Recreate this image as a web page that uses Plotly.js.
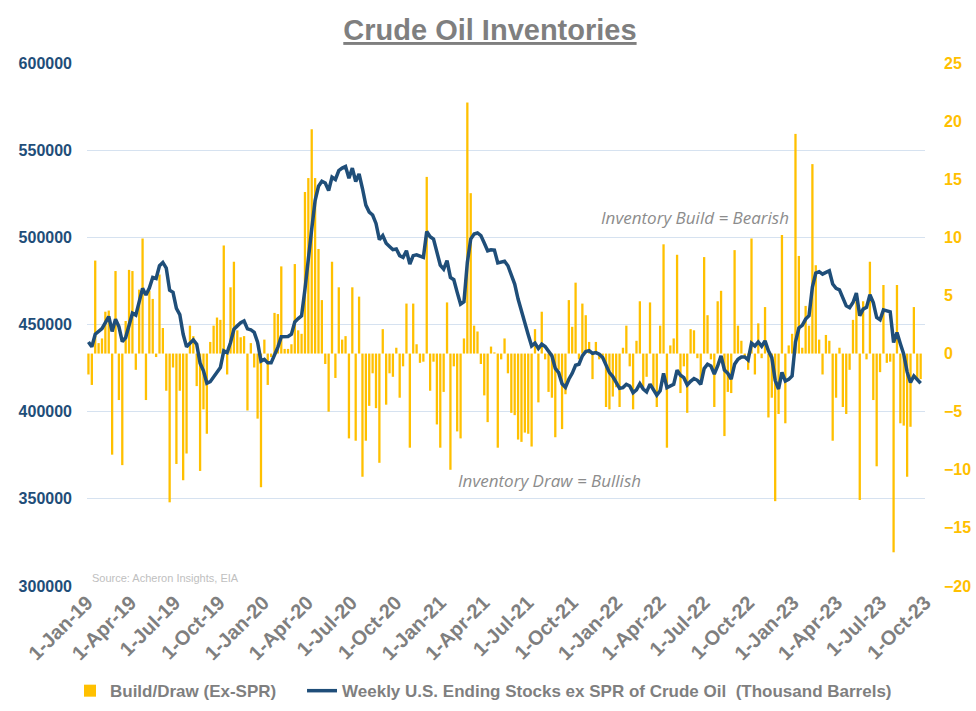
<!DOCTYPE html>
<html>
<head>
<meta charset="utf-8">
<script src="https://cdn.plot.ly/plotly-3.0.1.min.js"></script>
<style>
  html, body { margin: 0; padding: 0; background: #ffffff; }
  #chart { width: 976px; height: 711px; }
</style>
</head>
<body>
<div id="chart"></div>
<script>
// ---- Data ----
// First weekly observation and the weekly step (one week in ms)
const firstWeek = '2019-01-04';
const weekStepMs = 604800000;

// Weekly build / draw, million barrels (right axis)
const buildDraw = [
  -1.8, -2.7, 8.0, 0.9, 1.3, 3.6, 3.7, -8.7, 7.1, -4.0,
  -9.6, 2.8, 7.2, 7.1, -1.4, 5.5, 9.9, -4.0, 5.4, 4.7,
  -0.3, 6.8, 2.2, -3.2, -12.8, -1.2, -9.5, -3.2, -10.9, -8.6,
  2.4, 1.5, -2.8, -10.1, -4.8, -6.9, 1.0, 2.4, 3.1, 2.9,
  9.3, -1.8, 5.7, 7.9, 2.0, 1.4, 1.5, -4.9, 0.9, -1.2,
  -5.6, -11.5, 1.2, -2.7, -0.3, 3.5, 3.4, 7.5, 0.4, 0.4,
  0.8, 7.7, 2.0, 1.7, 13.9, 15.1, 19.3, 15.1, 9.0, 4.6,
  -0.9, -5.0, 7.9, -2.1, 5.7, 1.2, 1.5, -7.3, 5.7, -7.5,
  4.9, -10.6, -7.5, -4.5, -1.7, -4.7, -9.4, 2.1, -4.4, -1.7,
  -2.0, 0.5, -3.8, -1.1, 4.3, -8.1, 4.3, 0.8, -0.8, -0.7,
  15.2, -3.2, -0.7, -6.1, -8.1, -3.3, 4.4, -10.0, -1.1, -6.7,
  -7.3, 1.3, 21.6, 13.8, 2.4, 1.9, -0.9, -3.6, -5.9, 0.6,
  0.1, -8.1, -0.5, 1.3, -1.7, -5.1, -5.3, -7.4, -7.6, -6.8,
  -6.9, -8.0, 2.1, -4.2, 3.6, -0.5, -3.3, -3.8, -7.2, -1.4,
  -6.5, -3.5, 4.6, 2.3, 6.1, -0.5, 4.3, 3.3, 1.0, -2.2,
  1.0, -0.5, -0.2, -4.6, -4.8, -3.7, -2.9, -4.6, 0.5, 2.4,
  -1.1, -4.8, 1.1, 4.5, -2.9, -2.0, 4.4, -3.2, -4.6, 2.4,
  9.4, -8.1, 0.7, 1.3, 8.5, -3.4, -1.1, -5.1, 2.1, 2.0,
  -0.4, -2.6, 8.3, 3.3, -0.5, -4.6, 4.5, 5.4, -7.1, -3.3,
  -3.4, 8.9, 2.4, 1.1, -0.2, -1.4, 9.9, -1.8, 2.6, -0.4,
  4.0, -5.5, -3.8, -12.7, -5.2, 10.2, -6.0, 0.7, 1.7, 18.9,
  8.4, 0.5, 4.1, 2.4, 16.3, 7.6, 1.2, -1.8, 1.6, 1.1,
  -7.5, -3.8, 0.5, -4.6, -5.2, -1.4, 2.9, 4.5, -12.6, 4.5,
  -0.5, 7.9, -4.0, -9.7, -1.6, 5.9, -0.8, -0.7, -17.1, 5.9,
  -6.0, -6.2, -10.6, -6.3, 4.0, -2.2, -2.2
];

// Weekly U.S. ending stocks ex SPR, thousand barrels (left axis)
const endingStocks = [
  440000, 437200, 444400, 446000, 447700, 451100, 454600, 446000, 453100, 448800,
  440200, 442500, 450200, 456500, 455400, 462600, 470700, 466900, 470900, 477000,
  476400, 483700, 485600, 482400, 469700, 468400, 459200, 455700, 444400, 437200,
  439300, 441200, 438700, 427800, 423400, 416300, 417200, 420100, 422800, 425300,
  434900, 433900, 439700, 447300, 449200, 451000, 452000, 447500, 447000, 445500,
  439800, 429000, 430000, 428000, 428000, 432500, 437000, 443000, 443100, 443100,
  444400, 451500, 453400, 455000, 470300, 485600, 504800, 521100, 529300, 532200,
  531200, 526800, 534500, 533200, 538300, 539700, 540600, 533900, 539700, 532000,
  536400, 528000, 518500, 514500, 512800, 508000, 498700, 501000, 496600, 494800,
  492900, 493300, 489500, 488500, 492300, 484700, 489500, 490000, 489500, 488500,
  503300, 500400, 499000, 492300, 484100, 481800, 486600, 477000, 475700, 468400,
  461700, 463000, 485600, 499000, 501900, 502500, 501000, 496700, 492300, 492900,
  492700, 485300, 485600, 486300, 483700, 478000, 473200, 464600, 457300, 451100,
  444100, 437700, 439300, 436200, 438700, 437400, 434900, 432000, 424800, 422400,
  416000, 414000, 418600, 422000, 426600, 427200, 432000, 434500, 435000, 433500,
  433900, 432900, 431000, 426600, 422400, 420100, 416700, 413400, 413800, 415700,
  414700, 410900, 412500, 416000, 413000, 411300, 415800, 412800, 409500, 412000,
  422000, 413800, 414700, 415700, 423800, 420900, 419500, 415300, 417400, 419000,
  418000, 415700, 424700, 427200, 426200, 421500, 426200, 432000, 423900, 422000,
  418600, 427200, 430100, 431400, 431400, 429700, 439300, 437700, 440000, 437500,
  440600, 434900, 431000, 418000, 413000, 422500, 417500, 418500, 420500, 440000,
  448000, 449500, 453100, 455000, 471500, 479500, 480300, 478900, 479900, 480800,
  473200, 470700, 469900, 465500, 460700, 459600, 462600, 468000, 455000, 458800,
  459800, 467100, 462600, 454000, 452700, 458400, 457900, 457300, 439700, 445400,
  439000, 433000, 422800, 416700, 420500, 418600, 416300
];

// X-axis ticks
const tickDates = [
  '2019-01-01', '2019-04-01', '2019-07-01', '2019-10-01',
  '2020-01-01', '2020-04-01', '2020-07-01', '2020-10-01',
  '2021-01-01', '2021-04-01', '2021-07-01', '2021-10-01',
  '2022-01-01', '2022-04-01', '2022-07-01', '2022-10-01',
  '2023-01-01', '2023-04-01', '2023-07-01', '2023-10-01'
];
const tickLabels = [
  '1-Jan-19', '1-Apr-19', '1-Jul-19', '1-Oct-19',
  '1-Jan-20', '1-Apr-20', '1-Jul-20', '1-Oct-20',
  '1-Jan-21', '1-Apr-21', '1-Jul-21', '1-Oct-21',
  '1-Jan-22', '1-Apr-22', '1-Jul-22', '1-Oct-22',
  '1-Jan-23', '1-Apr-23', '1-Jul-23', '1-Oct-23'
];

const barName = 'Build/Draw (Ex-SPR)';
const lineName = 'Weekly U.S. Ending Stocks ex SPR of Crude Oil  (Thousand Barrels)';

// ---- Styling ----
const GOLD = '#ffc000';
const NAVY = '#1f4e79';
const GREY = '#7f7f7f';
const FONT = 'Liberation Sans, Arial, sans-serif';
const LEGEND_FONT = { family: FONT, size: 17, color: GREY, weight: 'bold' };

const traces = [
  {
    type: 'bar',
    name: barName,
    x0: firstWeek,
    dx: weekStepMs,
    y: buildDraw,
    yaxis: 'y',
    legend: 'legend',
    marker: { color: GOLD, line: { width: 0 } },
    hoverinfo: 'x+y'
  },
  {
    type: 'scatter',
    mode: 'lines',
    name: lineName,
    x0: firstWeek,
    dx: weekStepMs,
    y: endingStocks,
    yaxis: 'y2',
    legend: 'legend2',
    line: { color: NAVY, width: 3.5 }
  }
];

const layout = {
  width: 976,
  height: 711,
  paper_bgcolor: '#ffffff',
  plot_bgcolor: '#ffffff',
  margin: { l: 87, r: 51, t: 63, b: 125, pad: 0, autoexpand: false },
  bargap: 0.32,
  showlegend: true,
  title: {
    text: '<b><u>Crude Oil Inventories</u></b>',
    font: { family: FONT, size: 29, color: GREY },
    x: 0.502, xref: 'container', xanchor: 'center',
    y: 0.958, yref: 'container', yanchor: 'middle'
  },
  xaxis: {
    type: 'date',
    range: ['2019-01-01', '2023-10-01'],
    tickmode: 'array',
    tickvals: tickDates,
    ticktext: tickLabels,
    tickangle: -45,
    tickfont: { family: FONT, size: 20, color: GREY, weight: 'bold' },
    showgrid: false,
    zeroline: false,
    showline: false,
    automargin: false,
    ticks: ''
  },
  yaxis: {
    side: 'right',
    range: [-20, 25],
    tickmode: 'linear',
    tick0: -20,
    dtick: 5,
    showgrid: false,
    zeroline: false,
    showline: false,
    automargin: false,
    ticks: '',
    ticklabelstandoff: 18,
    tickfont: { family: FONT, size: 16, color: GOLD, weight: 'bold' }
  },
  yaxis2: {
    side: 'left',
    overlaying: 'y',
    range: [300000, 600000],
    tickmode: 'linear',
    tick0: 300000,
    dtick: 50000,
    tickformat: 'd',
    showgrid: true,
    gridcolor: '#d6e2f0',
    gridwidth: 1,
    zeroline: false,
    showline: false,
    automargin: false,
    ticks: '',
    ticklabelstandoff: 14,
    tickfont: { family: FONT, size: 16, color: NAVY, weight: 'bold' }
  },
  legend: {
    orientation: 'h',
    x: -0.0203, xanchor: 'left',
    y: -0.201, yanchor: 'middle',
    font: LEGEND_FONT,
    itemwidth: 30,
    bgcolor: 'rgba(0,0,0,0)'
  },
  legend2: {
    orientation: 'h',
    x: 0.2566, xanchor: 'left',
    y: -0.201, yanchor: 'middle',
    font: LEGEND_FONT,
    itemwidth: 30,
    bgcolor: 'rgba(0,0,0,0)'
  },
  annotations: [
    {
      text: 'Inventory Build = Bearish',
      xref: 'paper', yref: 'paper',
      x: 0.7255, y: 0.7055, xanchor: 'center', yanchor: 'middle',
      showarrow: false,
      font: { family: 'Open Sans, Lato, sans-serif', size: 17, color: '#8c8c8c', style: 'italic' }
    },
    {
      text: 'Inventory Draw = Bullish',
      xref: 'paper', yref: 'paper',
      x: 0.5525, y: 0.2008, xanchor: 'center', yanchor: 'middle',
      showarrow: false,
      font: { family: 'Open Sans, Lato, sans-serif', size: 17, color: '#8c8c8c', style: 'italic' }
    },
    {
      text: 'Source: Acheron Insights, EIA',
      xref: 'paper', yref: 'paper',
      x: 0.004, y: 0.016, xanchor: 'left', yanchor: 'middle',
      showarrow: false,
      font: { family: 'Liberation Sans Narrow, Liberation Sans, Arial, sans-serif', size: 11, color: '#c0c0c0' }
    }
  ]
};

Plotly.newPlot('chart', traces, layout, { displayModeBar: false, staticPlot: true });
</script>
</body>
</html>
